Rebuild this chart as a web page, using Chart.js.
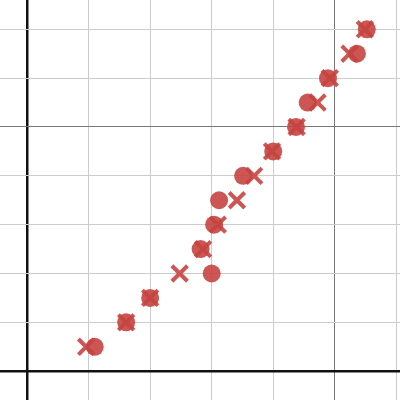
<!DOCTYPE html>
<html>
<head>
<meta charset="utf-8">
<script src="https://cdn.jsdelivr.net/npm/chart.js@4/dist/chart.umd.min.js"></script>
<style>html,body{margin:0;padding:0;background:#fff}</style>
</head>
<body>
<canvas id="c" width="400" height="400"></canvas>
<script>
// Circles series
const circleX = [1.10, 1.61, 2.00, 2.82, 3.00, 3.04, 3.12, 3.51, 4.00, 4.37, 4.56, 4.89, 5.36, 5.52];
const circleY = [0.5, 1.0, 1.5, 2.5, 2.0, 3.0, 3.5, 4.0, 4.5, 5.0, 5.5, 6.0, 6.5, 7.0];
// Crosses series
const crossX = [0.96, 1.61, 2.00, 2.48, 2.86, 3.10, 3.41, 3.69, 3.98, 4.38, 4.72, 4.92, 5.24, 5.49];
const crossY = [0.5, 1.0, 1.5, 2.0, 2.5, 3.0, 3.5, 4.0, 4.5, 5.0, 5.5, 6.0, 6.5, 7.0];
const xTicks = [0, 1, 2, 3, 4, 5, 6];
const yTicks = [0, 1, 2, 3, 4, 5, 6, 7];

const red = 'rgba(199,68,64,0.9)';
const toPts = (xs, ys) => xs.map((x, i) => ({ x: x, y: ys[i] }));

function gridColor(ctx) {
    const v = ctx.tick ? ctx.tick.value : 0;
    if (v === 0) return '#111';
    if (v % 5 === 0) return '#777';
    return '#ccc';
}
function gridWidth(ctx) {
    const v = ctx.tick ? ctx.tick.value : 0;
    return v === 0 ? 2.5 : 1;
}
const axisOpts = (min, max, ticks) => ({
    type: 'linear', min: min, max: max,
    afterBuildTicks: axis => { axis.ticks = ticks.map(v => ({ value: v })); },
    ticks: { display: false },
    border: { display: false },
    grid: { color: gridColor, lineWidth: gridWidth, drawTicks: false }
});

new Chart(document.getElementById('c'), {
    type: 'scatter',
    data: {
        datasets: [
            { label: 'circles', data: toPts(circleX, circleY), pointStyle: 'circle', pointRadius: 9,
              backgroundColor: red, borderColor: red, borderWidth: 0 },
            { label: 'crosses', data: toPts(crossX, crossY), pointStyle: 'crossRot', pointRadius: 11,
              borderColor: red, borderWidth: 4 }
        ]
    },
    options: {
        responsive: false,
        animation: false,
        layout: { padding: 0, autoPadding: false },
        plugins: { legend: { display: false }, tooltip: { enabled: false } },
        scales: { x: axisOpts(-0.44, 6.06, xTicks), y: axisOpts(-0.59, 7.6, yTicks) }
    }
});
</script>
</body>
</html>
